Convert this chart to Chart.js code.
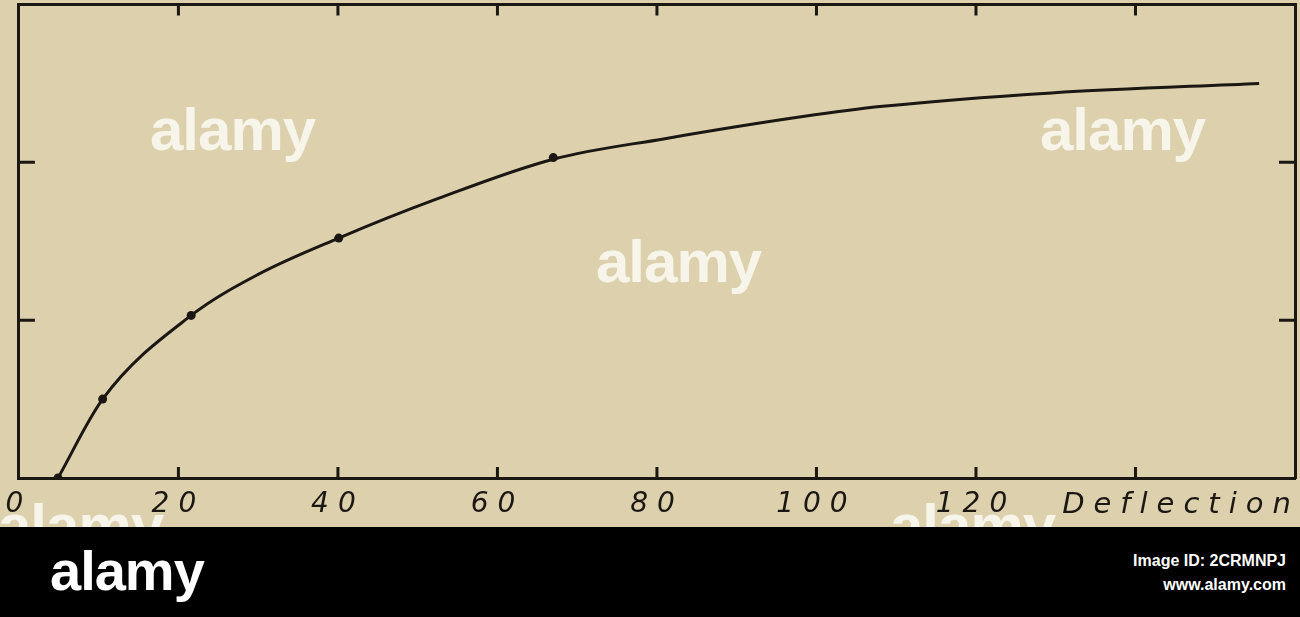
<!DOCTYPE html>
<html>
<head>
<meta charset="utf-8">
<script src="https://cdn.jsdelivr.net/npm/chart.js@4.4.1/dist/chart.umd.min.js"></script>
<style>
  html, body { margin: 0; padding: 0; background: #000; }
  #page { position: relative; width: 1300px; height: 527px; background: #ddd1ad; overflow: hidden; }
  #page canvas { display: block; }
  .wm { position: absolute; color: rgba(255,255,255,0.75); font-family: "Liberation Sans Narrow", "Liberation Sans", sans-serif; font-weight: bold; font-size: 60px; letter-spacing: -1px; pointer-events: none; line-height: 1; }
  #footer { position: relative; width: 1300px; height: 90px; background: #000; color: #fff; font-family: "Liberation Sans", Arial, sans-serif; }
  #logo { position: absolute; left: 50px; top: 16px; font-family: "Liberation Sans Narrow", "Liberation Sans", sans-serif; font-weight: bold; font-size: 56px; letter-spacing: -1px; line-height: 1; }
  #ident { position: absolute; right: 14px; top: 22px; text-align: right; font-size: 16px; font-weight: bold; line-height: 24px; }
</style>
</head>
<body>
<div id="page">
  <canvas id="grafico" width="1300" height="527"></canvas>
  <div class="wm" style="left:150px; top:100px;">alamy</div>
  <div class="wm" style="left:596px; top:232px;">alamy</div>
  <div class="wm" style="left:1040px; top:100px;">alamy</div>
  <div class="wm" style="left:-2px; top:496px;">alamy</div>
  <div class="wm" style="left:890px; top:496px;">alamy</div>
</div>
<div id="footer">
  <div id="logo">alamy</div>
  <div id="ident">Image ID: 2CRMNPJ<br>www.alamy.com</div>
</div>
<script>
// curva dibujada
const curveX = [4.9, 10.5, 21.6, 30, 40.1, 52, 67, 81, 98.3, 108.3, 129.5, 155.5];
const curveY = [0, 0.50, 1.03, 1.29, 1.52, 1.76, 2.02, 2.15, 2.29, 2.355, 2.44, 2.50];

// puntos medidos
const pointX = [4.9, 10.5, 21.6, 40.1, 67];
const pointY = [0, 0.50, 1.03, 1.52, 2.03];

// marcas de los ejes
const xTicks = [0, 20, 40, 60, 80, 100, 120, 140];
const xTickLabels = ["0", "20", "40", "60", "80", "100", "120", "     Deflection"];
const yTicks = [1, 2];

const ink = "#1b1713";

// marcas hacia adentro en los cuatro lados
const marcasInternas = {
    id: "marcasInternas",
    afterDraw(chart) {
        const ctx = chart.ctx;
        const area = chart.chartArea;
        const sx = chart.scales.x;
        const sy = chart.scales.y;
        ctx.save();
        ctx.strokeStyle = ink;
        ctx.lineWidth = 3;
        xTicks.forEach(function (v) {
            if (v === 0) return;
            const px = sx.getPixelForValue(v);
            ctx.beginPath();
            ctx.moveTo(px, area.bottom);
            ctx.lineTo(px, area.bottom - 11);
            ctx.moveTo(px, area.top);
            ctx.lineTo(px, area.top + 11);
            ctx.stroke();
        });
        yTicks.forEach(function (v) {
            const py = sy.getPixelForValue(v);
            ctx.beginPath();
            ctx.moveTo(area.left, py);
            ctx.lineTo(area.left + 16, py);
            ctx.moveTo(area.right, py);
            ctx.lineTo(area.right - 16, py);
            ctx.stroke();
        });
        ctx.restore();
    }
};

// espaciado de letras tipo rotulado a mano
const espaciado = {
    id: "espaciado",
    beforeDraw(chart) {
        chart.ctx.letterSpacing = "9px";
    }
};

const ctx = document.getElementById("grafico").getContext("2d");
new Chart(ctx, {
    type: "line",
    data: {
        datasets: [{
            data: curveX.map((x, i) => ({ x: x, y: curveY[i] })),
            borderColor: ink,
            borderWidth: 3,
            pointRadius: 0,
            cubicInterpolationMode: "monotone",
            fill: false
        }, {
            type: "scatter",
            data: pointX.map((x, i) => ({ x: x, y: pointY[i] })),
            backgroundColor: ink,
            borderWidth: 0,
            pointRadius: 4.5,
            showLine: false
        }]
    },
    options: {
        responsive: false,
        animation: false,
        layout: { padding: { left: 14, right: 5, top: 3, bottom: 0 } },
        plugins: { legend: { display: false }, tooltip: { enabled: false } },
        scales: {
            x: {
                type: "linear",
                position: "bottom",
                min: 0,
                max: 160,
                afterBuildTicks: s => { s.ticks = xTicks.map(v => ({ value: v })); },
                afterFit: s => { s.height = 49; },
                ticks: {
                    autoSkip: false,
                    maxRotation: 0,
                    padding: 10,
                    color: ink,
                    font: c => ({ family: "DejaVu Sans", style: "italic", size: c.tick && c.tick.value === 140 ? 29 : 28 }),
                    callback: v => xTickLabels[xTicks.indexOf(v)]
                },
                grid: { display: false, drawTicks: false },
                border: { color: ink, width: 3 }
            },
            xTop: {
                type: "linear",
                position: "top",
                min: 0,
                max: 160,
                afterFit: s => { s.height = 0; },
                ticks: { display: false },
                grid: { display: false, drawTicks: false },
                border: { color: ink, width: 3 }
            },
            y: {
                type: "linear",
                position: "left",
                min: 0,
                max: 3,
                afterFit: s => { s.width = 0; },
                ticks: { display: false, stepSize: 1 },
                grid: { display: false, drawTicks: false },
                border: { color: ink, width: 3 }
            },
            yRight: {
                type: "linear",
                position: "right",
                min: 0,
                max: 3,
                afterFit: s => { s.width = 0; },
                ticks: { display: false },
                grid: { display: false, drawTicks: false },
                border: { color: ink, width: 3 }
            }
        }
    },
    plugins: [marcasInternas, espaciado]
});
</script>
</body>
</html>
